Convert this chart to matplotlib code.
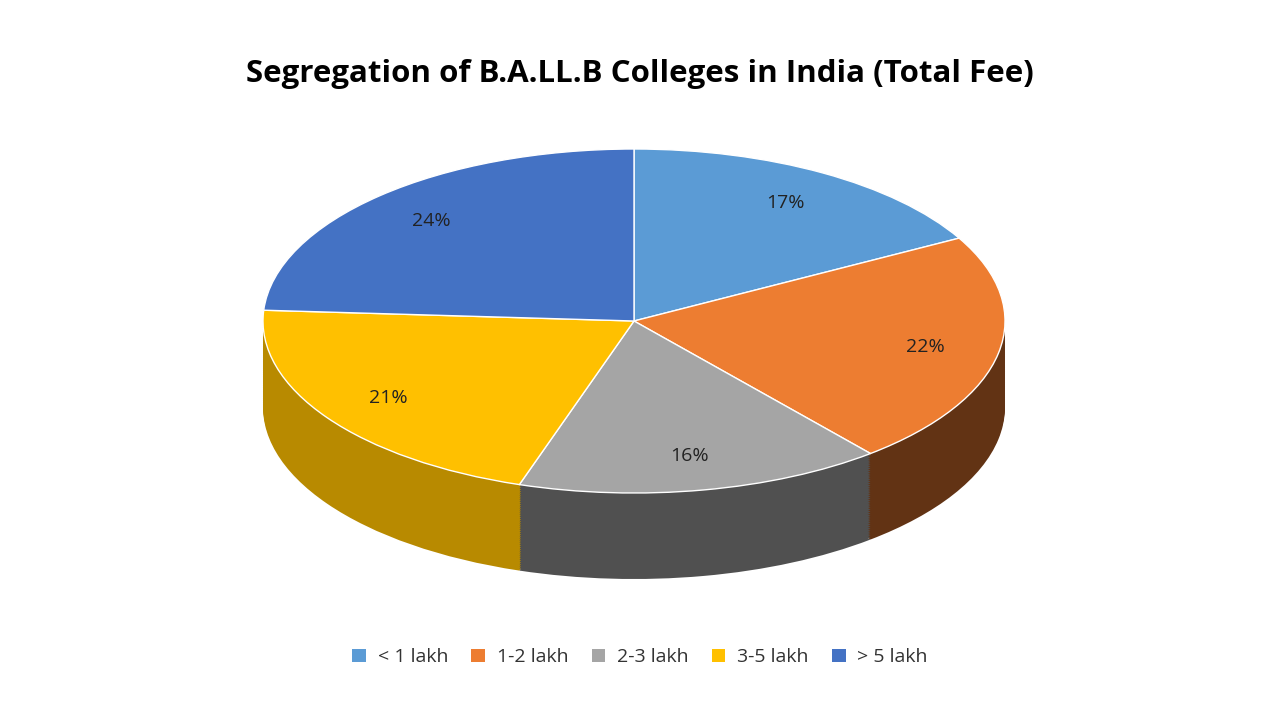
import matplotlib
matplotlib.use("Agg")
import matplotlib.pyplot as plt
from matplotlib.patches import Patch
import numpy as np

categories = ["< 1 lakh", "1-2 lakh", "2-3 lakh", "3-5 lakh", "> 5 lakh"]
values = [17, 22, 16, 21, 24]
colors = ["#5B9BD5", "#ED7D31", "#A5A5A5", "#FFC000", "#4472C4"]
side_colors = ["#3d6c99", "#623314", "#505050", "#b88a00", "#2f5189"]

fig = plt.figure(figsize=(12.8, 7.2), dpi=100)
fig.text(0.5, 0.897, "Segregation of B.A.LL.B Colleges in India (Total Fee)",
         ha="center", va="center", fontsize=22.5, fontweight="bold", family="Open Sans")

rx, ry, depth = 371, 172, 86
cx, cy = 634, 321
W, H = 1280, 720
left = (cx - rx) / W
bottom = (H - (cy + ry + depth)) / H
ax = fig.add_axes([left, bottom, 2 * rx / W, (2 * ry + depth) / H])
d = depth / ry

n = 40
for i in range(n):
    off = -d * (1 - i / n)
    ax.pie(values, colors=side_colors, startangle=90, counterclock=False,
           center=(0, off), radius=1, wedgeprops=dict(linewidth=0))
ax.pie(values, colors=colors, startangle=90, counterclock=False, center=(0, 0),
       radius=1, autopct="%d%%", pctdistance=0.8,
       wedgeprops=dict(edgecolor="white", linewidth=1),
       textprops=dict(fontsize=14, color="#222222", family="Open Sans"))
ax.set_xlim(-1, 1)
ax.set_ylim(-1 - d, 1)
ax.set_aspect("auto")
ax.axis("off")

handles = [Patch(facecolor=c, label=l) for c, l in zip(colors, categories)]
fig.legend(handles=handles, loc="center", bbox_to_anchor=(0.5, 0.087), ncol=5,
           frameon=False, handlelength=0.7, handleheight=0.7, columnspacing=1.2,
           handletextpad=0.6, prop=dict(size=14, family="Open Sans"), labelcolor="#333333")
fig.savefig("out.png", dpi=100)
